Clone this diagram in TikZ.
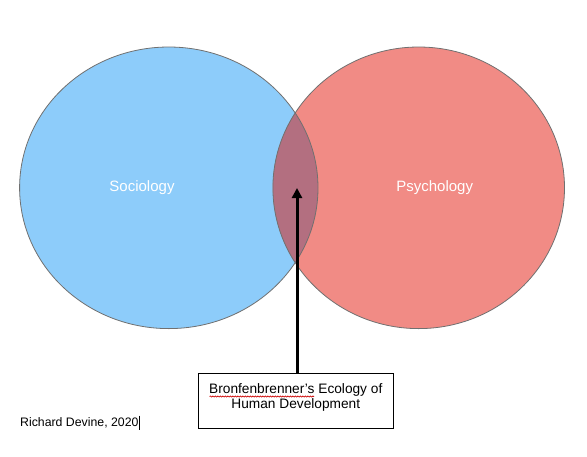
\documentclass[tikz,border=0pt]{standalone}
\usepackage{fontspec}
\setmainfont{Liberation Sans}
\usetikzlibrary{arrows.meta,decorations.pathmorphing}
\definecolor{socblue}{RGB}{141,204,250}
\definecolor{psyred}{RGB}{241,139,133}
\definecolor{overlap}{RGB}{179,111,128}
\definecolor{rimgray}{RGB}{112,112,112}
\tikzset{
  rim/.style={draw=rimgray, line width=0.8pt},
  circlabel/.style={text=white, font=\fontsize{15}{18}\selectfont, inner sep=0pt},
  notebox/.style={draw=black, line width=0.9pt, fill=white},
  conn/.style={line width=3pt, -{Triangle[width=10pt,length=10pt]}},
}
\begin{document}
\begin{tikzpicture}[x=1pt,y=-1pt]
\useasboundingbox (0,0) rectangle (587,456);
\fill[white] (0,0) rectangle (587,456);
% circles
\fill[socblue] (168.8,187.8) ellipse [x radius=149.2, y radius=140.8];
\fill[psyred] (418.7,187.8) ellipse [x radius=145.8, y radius=140.8];
\begin{scope}
  \clip (168.8,187.8) ellipse [x radius=149.2, y radius=140.8];
  \fill[overlap] (418.7,187.8) ellipse [x radius=145.8, y radius=140.8];
\end{scope}
\draw[rim] (168.8,187.8) ellipse [x radius=149.2, y radius=140.8];
\draw[rim] (418.7,187.8) ellipse [x radius=145.8, y radius=140.8];
\node[circlabel] (soc) at (142,188) {Sociology};
\node[circlabel] (psy) at (434.7,188) {Psychology};
% box
\draw[notebox] (198.3,373.3) rectangle (393.3,428.3);
\node[inner sep=0pt, minimum width=195pt, minimum height=55pt] (box) at (295.8,400.8) {};
\node[align=center, inner sep=0pt, font=\fontsize{13.7}{14.8}\selectfont] (boxtext) at (295.8,397.1)
  {Bronfenbrenner's Ecology of\\Human Development};
\draw[red!80!black, line width=0.7pt, decorate, decoration={snake, amplitude=0.6pt, segment length=2.5pt}]
  (209.6,396.5) -- (314,396.5);
% arrow
\coordinate (tip) at (297,188);
\draw[conn] (tip |- box.north) -- (tip);
% credit
\node[anchor=west, inner sep=0pt, font=\fontsize{12.3}{14}\selectfont] (credit) at (20,423) {Richard Devine, 2020};
\draw[black, line width=0.8pt] ([xshift=1.2pt]credit.east |- 0,415.5) -- ([xshift=1.2pt]credit.east |- 0,430);
\end{tikzpicture}
\end{document}
